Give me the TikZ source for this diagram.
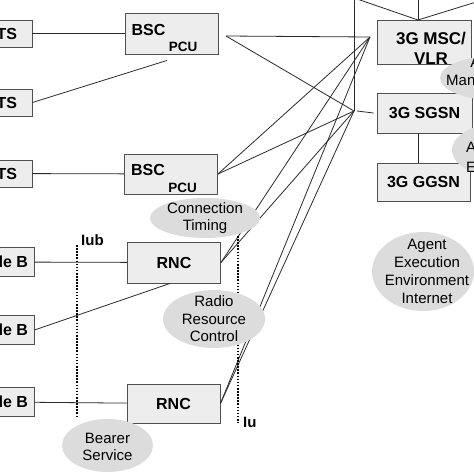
\documentclass[tikz,border=0pt]{standalone}
\usepackage{fontspec}
\setmainfont{Liberation Sans}
\usetikzlibrary{shapes.geometric}
\definecolor{boxfill}{HTML}{EDEDED}
\definecolor{bubfill}{HTML}{DCDCDC}
\definecolor{boxedge}{HTML}{505050}
\definecolor{wirecol}{HTML}{2A2A2A}
\tikzset{
netbox/.style={draw=boxedge,fill=boxfill,line width=0.9pt,minimum width=93,minimum height=40,inner sep=0pt,font=\fontsize{16}{19}\selectfont\bfseries},
boxtext/.style={inner sep=0pt,align=center,font=\fontsize{16}{20}\selectfont\bfseries},
pcutext/.style={inner sep=0pt,font=\fontsize{13.5}{15}\selectfont\bfseries},
bubble/.style={ellipse,fill=bubfill,inner sep=0pt},
bubtext/.style={inner sep=0pt,align=center,font=\fontsize{15}{17.5}\selectfont},
wire/.style={draw=wirecol,line width=0.8pt},
iface/.style={line width=1.8pt,dash pattern=on 1.6pt off 1.5pt},
ifacelbl/.style={inner sep=0pt,anchor=base west,font=\fontsize{15}{17}\selectfont\bfseries}
}
\begin{document}
\begin{tikzpicture}[x=1pt,y=-1pt]
\useasboundingbox(0,0)rectangle(474,474);
\clip(0,0)rectangle(474,474);
\foreach \n/\y in {1/33.5,2/102.5,3/173.5}{\node[netbox,minimum width=62,minimum height=27](bts\n)at(1,\y){BTS};}
\foreach \n/\y in {1/262,2/330,3/402}{\node[netbox,minimum width=68,minimum height=29](nb\n)at(0,\y){Node B};}
\node[netbox,minimum height=41](bsc1)at(171.5,33.5){};
\node[netbox](bsc2)at(171,174){};
\foreach \b in {bsc1,bsc2}{\node[boxtext](\b-n)at([shift={(-23,-4)}]\b.center){BSC};
\node[pcutext](\b-p)at([shift={(11.5,13.5)}]\b.center){PCU};}
\node[netbox,minimum height=41](rnc1)at(174,262.5){RNC};
\node[netbox,minimum height=39](rnc2)at(173.5,403.5){RNC};
\node[netbox,minimum width=94,minimum height=44](msc)at(424,42){};
\node[boxtext,font=\fontsize{17}{20}\selectfont\bfseries](msc-n)at(431,48.5){3G MSC/\\VLR};
\node[netbox,minimum width=95](sgsn)at(424.5,113){3G SGSN};
\node[netbox,minimum height=38](ggsn)at(423.5,182){3G GGSN};
\coordinate(cs)at(370,37);
\coordinate(ps)at(354,111);
\coordinate(bsc1-out)at(226,36);
\coordinate(msc-top)at(418,20);
\coordinate(top-l)at(331,-10);
\coordinate(top-r)at(515,-10);
\draw[wire](bts1)--(bsc1);
\draw[wire](bts2.east)--([shift={(-4.5,6)}]bsc1.south);
\draw[wire](bts3)--(bsc2);
\draw[wire](nb1)--(rnc1);
\draw[wire](nb2.east)--([xshift=-4]rnc1.south);
\draw[wire](nb3)--(rnc2);
\draw[wire](bsc1-out)--(cs);
\draw[wire](bsc1-out)--(ps);
\foreach \src in {bsc2,rnc1,rnc2}{\draw[wire](\src.east)--(cs);\draw[wire](\src.east)--(ps);}
\draw[wire](ps)--(ps|-top-l);
\draw[wire]([xshift=3]ps)--([xshift=-3]sgsn.west);
\draw[wire](top-l)--(msc-top)--(top-r);
\draw[wire](msc-top)--(msc-top|-top-l);
\draw[wire](sgsn.south-|msc-top)--(ggsn.north-|msc-top);
\draw[iface](77,245)--(77,417);
\node[ifacelbl](iub)at(81,245){Iub};
\draw[iface](238,236)--(238,423);
\node[ifacelbl](iu)at(243,427){Iu};
\node[bubble,minimum width=110,minimum height=40](ct)at(205,218){};
\node[bubtext](ct-t)at(ct){Connection\\Timing};
\node[bubble,minimum width=102,minimum height=58](rrc)at(214,319){};
\node[bubtext](rrc-t)at(rrc){Radio\\Resource\\Control};
\node[bubble,minimum width=91,minimum height=53](bs)at(107.5,445.5){};
\node[bubtext](bs-t)at(107.5,447){Bearer\\Service};
\node[bubble,minimum width=102,minimum height=79](aee)at(423,271.5){};
\node[bubtext,font=\fontsize{15}{18}\selectfont](aee-t)at(427,271.5){Agent\\Execution\\Environment\\Internet};
\node[bubble,minimum width=110,minimum height=44](amgmt)at(495,78){};
\node[bubtext,font=\fontsize{15}{18.5}\selectfont](amgmt-t)at(490,73){Agent\\Management};
\node[bubble,minimum width=106,minimum height=56](aexe)at(505,150){};
\node[bubtext,align=left,anchor=west,font=\fontsize{15}{20}\selectfont](aexe-t)at(466,157){Agent\\Execution};
\end{tikzpicture}
\end{document}
